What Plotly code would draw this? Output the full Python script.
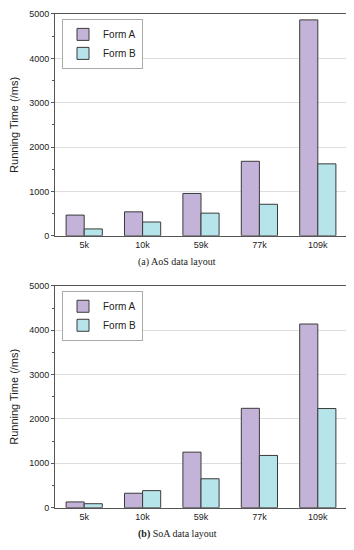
import plotly.graph_objects as go

categories = ["5k", "10k", "59k", "77k", "109k"]
aos_form_a = [467, 540, 955, 1680, 4867]
aos_form_b = [155, 311, 511, 711, 1622]
soa_form_a = [130, 326, 1252, 2240, 4140]
soa_form_b = [90, 385, 652, 1178, 2235]
y_ticks = [0, 1000, 2000, 3000, 4000, 5000]

OFF = 8  # default body margin of the page
W, H = 354 - OFF, 550 - OFF
col_a = "#C4B3D9"
col_b = "#B5E5EB"
edge = "#3a3a3a"

fig = go.Figure()

def add(vals, name, color, xa, ya, leg):
    fig.add_trace(go.Bar(x=categories, y=vals, name=name,
                         marker=dict(color=color, line=dict(color=edge, width=1)),
                         xaxis=xa, yaxis=ya, legend=leg))

add(aos_form_a, "Form A", col_a, "x", "y", "legend")
add(aos_form_b, "Form B", col_b, "x", "y", "legend")
add(soa_form_a, "Form A", col_a, "x2", "y2", "legend2")
add(soa_form_b, "Form B", col_b, "x2", "y2", "legend2")

def py(p):
    return 1 - (p - OFF) / H

def px(p):
    return (p - OFF) / W

xdom = [px(55), px(347)]
tickfont = dict(family="Liberation Sans, Arial", size=9, color="#222")
axcommon = dict(showline=True, linecolor="#555", linewidth=1, mirror=True)

for i, (top, bot) in enumerate([(9, 235), (286, 512)]):
    sfx = "" if i == 0 else str(i + 1)
    fig.layout["xaxis" + sfx] = dict(domain=xdom, anchor="y" + sfx, tickfont=tickfont, ticks="", **axcommon)
    fig.layout["yaxis" + sfx] = dict(domain=[py(bot), py(top)], anchor="x" + sfx, range=[0, 5000],
                                     tickvals=y_ticks, tickfont=tickfont, ticks="outside", ticklen=3,
                                     tickcolor="#555", showgrid=True, gridcolor="#dedede", gridwidth=1,
                                     minor=dict(dtick=500, ticks="outside", ticklen=2, tickcolor="#555", showgrid=False),
                                     title=dict(text="Running Time (/ms)",
                                                font=dict(family="Liberation Sans, Arial", size=11, color="#222"),
                                                standoff=8),
                                     **axcommon)

legstyle = dict(bgcolor="white", bordercolor="#aaa", borderwidth=1,
                font=dict(family="Liberation Sans, Arial", size=10, color="#222"),
                xanchor="left", yanchor="top", tracegroupgap=0, itemwidth=30)
fig.update_layout(legend=dict(x=px(62), y=py(14), **legstyle),
                  legend2=dict(x=px(62), y=py(291), **legstyle))

capfont = dict(family="Liberation Serif, Times New Roman", size=10, color="#222")
fig.add_annotation(text="(a) AoS data layout", x=px(177), y=py(262), xref="paper", yref="paper",
                   showarrow=False, font=capfont, yanchor="middle", xanchor="center")
fig.add_annotation(text="<b>(b)</b> SoA data layout", x=px(177), y=py(539), xref="paper", yref="paper",
                   showarrow=False, font=capfont, yanchor="middle", xanchor="center")

fig.update_layout(width=W, height=H, margin=dict(l=0, r=0, t=0, b=0), barmode="group",
                  bargap=0.38, bargroupgap=0, plot_bgcolor="white", paper_bgcolor="white")

fig.write_html("out.html")
